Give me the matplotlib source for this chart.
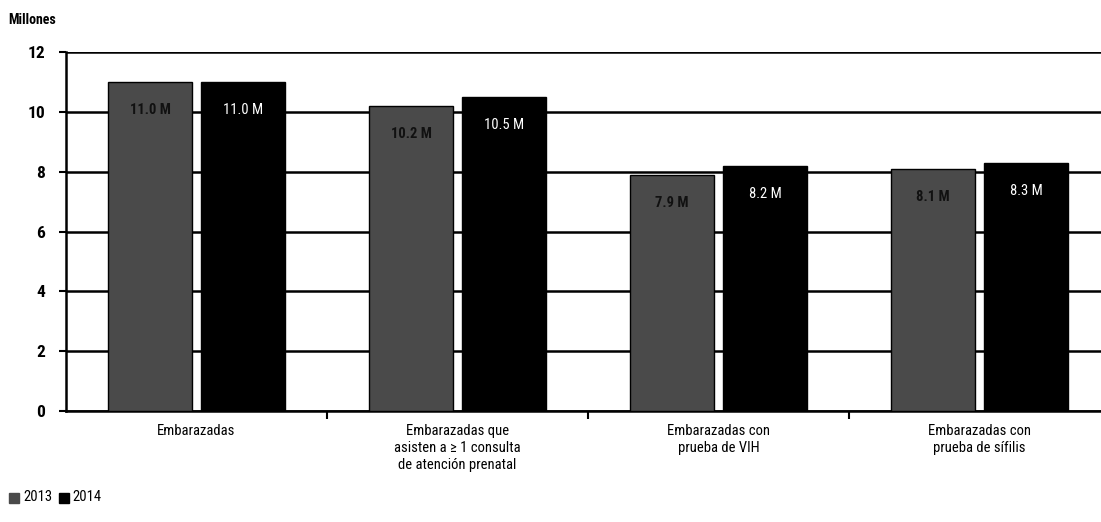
import numpy as np
import matplotlib.pyplot as plt
from matplotlib.patches import Rectangle

categories = ["Embarazadas",
              "Embarazadas que\nasisten a ≥ 1 consulta\nde atención prenatal",
              "Embarazadas con\nprueba de VIH",
              "Embarazadas con\nprueba de sífilis"]
values_2013 = [11.0, 10.2, 7.9, 8.1]
values_2014 = [11.0, 10.5, 8.2, 8.3]
labels_2013 = ["11.0 M", "10.2 M", "7.9 M", "8.1 M"]
labels_2014 = ["11.0 M", "10.5 M", "8.2 M", "8.3 M"]
yticks = [0, 2, 4, 6, 8, 10, 12]

plt.rcParams['font.family'] = ['Roboto Condensed', 'Liberation Sans Narrow', 'Roboto', 'DejaVu Sans']

fig = plt.figure(figsize=(11.01, 5.22), dpi=100)
ax = fig.add_axes([66 / 1101, 111 / 522, 1044 / 1101, 359 / 522])

x = np.arange(len(categories))
w = 0.325
off = 0.178
gray = '#4a4a4a'
ax.bar(x - off, values_2013, w, color=gray, edgecolor='black', linewidth=1, zorder=3)
ax.bar(x + off, values_2014, w, color='black', edgecolor='black', linewidth=1, zorder=3)

for i in range(len(categories)):
    ax.text(x[i] - off, values_2013[i] - 0.95, labels_2013[i], ha='center', va='center',
            color='#111111', fontsize=10.5, fontweight='bold', zorder=4)
    ax.text(x[i] + off, values_2014[i] - 0.95, labels_2014[i], ha='center', va='center',
            color='white', fontsize=10.5, zorder=4)

ax.set_xlim(-0.5, 3.5)
ax.set_ylim(0, 12)
ax.set_yticks(yticks)
ax.set_yticklabels([str(t) for t in yticks], fontsize=12.5, fontweight='bold')
ax.yaxis.grid(True, color='black', linewidth=1.8, zorder=1)
ax.set_axisbelow(True)

ax.set_xticks([0.5, 1.5, 2.5])
ax.set_xticklabels([])
ax.tick_params(axis='x', length=6, width=1.5, direction='out', color='black')
ax.tick_params(axis='y', length=5, width=1.5, direction='out', pad=10)

for i, c in enumerate(categories):
    ax.text(x[i], -0.45, c, ha='center', va='top', fontsize=10.5,
            linespacing=1.25, transform=ax.transData)

for s in ['top', 'right']:
    ax.spines[s].set_visible(False)
ax.spines['left'].set_linewidth(1.8)
ax.spines['bottom'].set_linewidth(1.8)

fig.text(8 / 1101, 1 - 20 / 522, "Millones", fontsize=10, fontweight='bold', va='center')

# legend at the bottom left
fig.patches.append(Rectangle((9 / 1101, 1 - 503 / 522), 10 / 1101, 10 / 522,
                             transform=fig.transFigure, color=gray, figure=fig))
fig.text(23 / 1101, 1 - 497 / 522, "2013", fontsize=10.5, va='center')
fig.patches.append(Rectangle((59 / 1101, 1 - 503 / 522), 10 / 1101, 10 / 522,
                             transform=fig.transFigure, color='black', figure=fig))
fig.text(72 / 1101, 1 - 497 / 522, "2014", fontsize=10.5, va='center')

fig.savefig('out.png', dpi=100)
